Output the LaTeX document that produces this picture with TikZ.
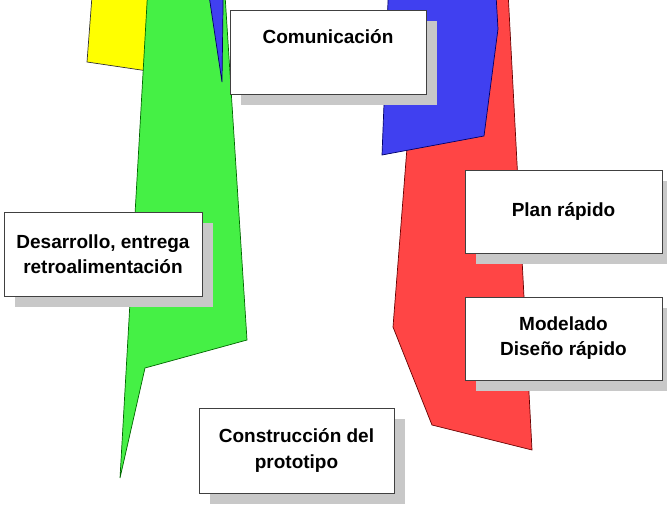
\documentclass[tikz,border=0pt]{standalone}
\usepackage{fontspec}
\setmainfont{Liberation Sans}
\usetikzlibrary{calc}
\definecolor{cblue}{HTML}{4040F0}
\definecolor{cred}{HTML}{FF4545}
\definecolor{cgreen}{HTML}{45F045}
\definecolor{cyellow}{HTML}{FFFF00}
\definecolor{cshadow}{HTML}{C8C8C8}
\tikzset{
  band/.style={line width=0.7pt, line join=miter},
  boxnode/.style={draw=black!75, line width=0.7pt, fill=white, align=center, inner sep=0pt,
     font=\bfseries\fontsize{19}{25}\selectfont},
  shadowbox/.style={fill=cshadow}
}
\newcommand{\mybox}[6]{%
  \fill[shadowbox] (#2+11,#3+11) rectangle (#4+11,#5+11);
  \node[boxnode, minimum width={#4-#2}, minimum height={#5-#3}] (#1) at ({(#2+#4)/2},{(#3+#5)/2}) {#6};
}
\begin{document}
\begin{tikzpicture}[x=1pt,y=1pt,yscale=-1]
\useasboundingbox (0,0) rectangle (667,514);
\coordinate (C) at (315,257);
% yellow
\draw[band, fill=cyellow, draw=black!80]
  ([shift={(C)}]140:250pt and 252pt) arc[start angle=140,end angle=220,x radius=250pt,y radius=252pt]
  -- (87,62) -- (222,82) -- (227,190)
  -- ([shift={(C)}]218:152pt and 155pt) arc[start angle=218,end angle=140,x radius=152pt,y radius=155pt] -- cycle;
% green
\draw[band, fill=cgreen, draw=green!40!black]
  ([shift={(C)}]30:250pt and 252pt) arc[start angle=30,end angle=131,x radius=250pt,y radius=252pt]
  -- (120,478) -- (145,368) -- (247,340)
  -- ([shift={(C)}]130.4:152pt and 155pt) arc[start angle=130.4,end angle=30,x radius=152pt,y radius=155pt] -- cycle;
% red
\draw[band, fill=cred, draw=red!40!black]
  ([shift={(C)}]-65:250pt and 252pt) arc[start angle=-65,end angle=41,x radius=250pt,y radius=252pt]
  -- (532,450) -- (432,425) -- (393,327)
  -- ([shift={(C)}]40.4:152pt and 155pt) arc[start angle=40.4,end angle=-65,x radius=152pt,y radius=155pt] -- cycle;
% blue
\draw[band, fill=cblue, draw=blue!40!black]
  ([shift={(C)}]-133.3:250pt and 252pt) arc[start angle=-133.3,end angle=-51.7,x radius=250pt,y radius=252pt]
  -- (498,29) -- (484,136) -- (382,155)
  -- ([shift={(C)}]-54.6:152pt and 155pt) arc[start angle=-54.6,end angle=-124.8,x radius=152pt,y radius=155pt]
  -- (222,82) -- cycle;
% boxes
\mybox{com}{230}{10}{426}{94}{Comunicación\\[6pt]}
\mybox{plan}{465}{170}{662}{253}{Plan rápido}
\mybox{mod}{465}{297}{662}{380}{Modelado\\Diseño rápido}
\mybox{con}{199}{408}{394}{493}{Construcción del\\prototipo}
\mybox{des}{4}{212}{202}{296}{Desarrollo, entrega\\retroalimentación}
\end{tikzpicture}
\end{document}
